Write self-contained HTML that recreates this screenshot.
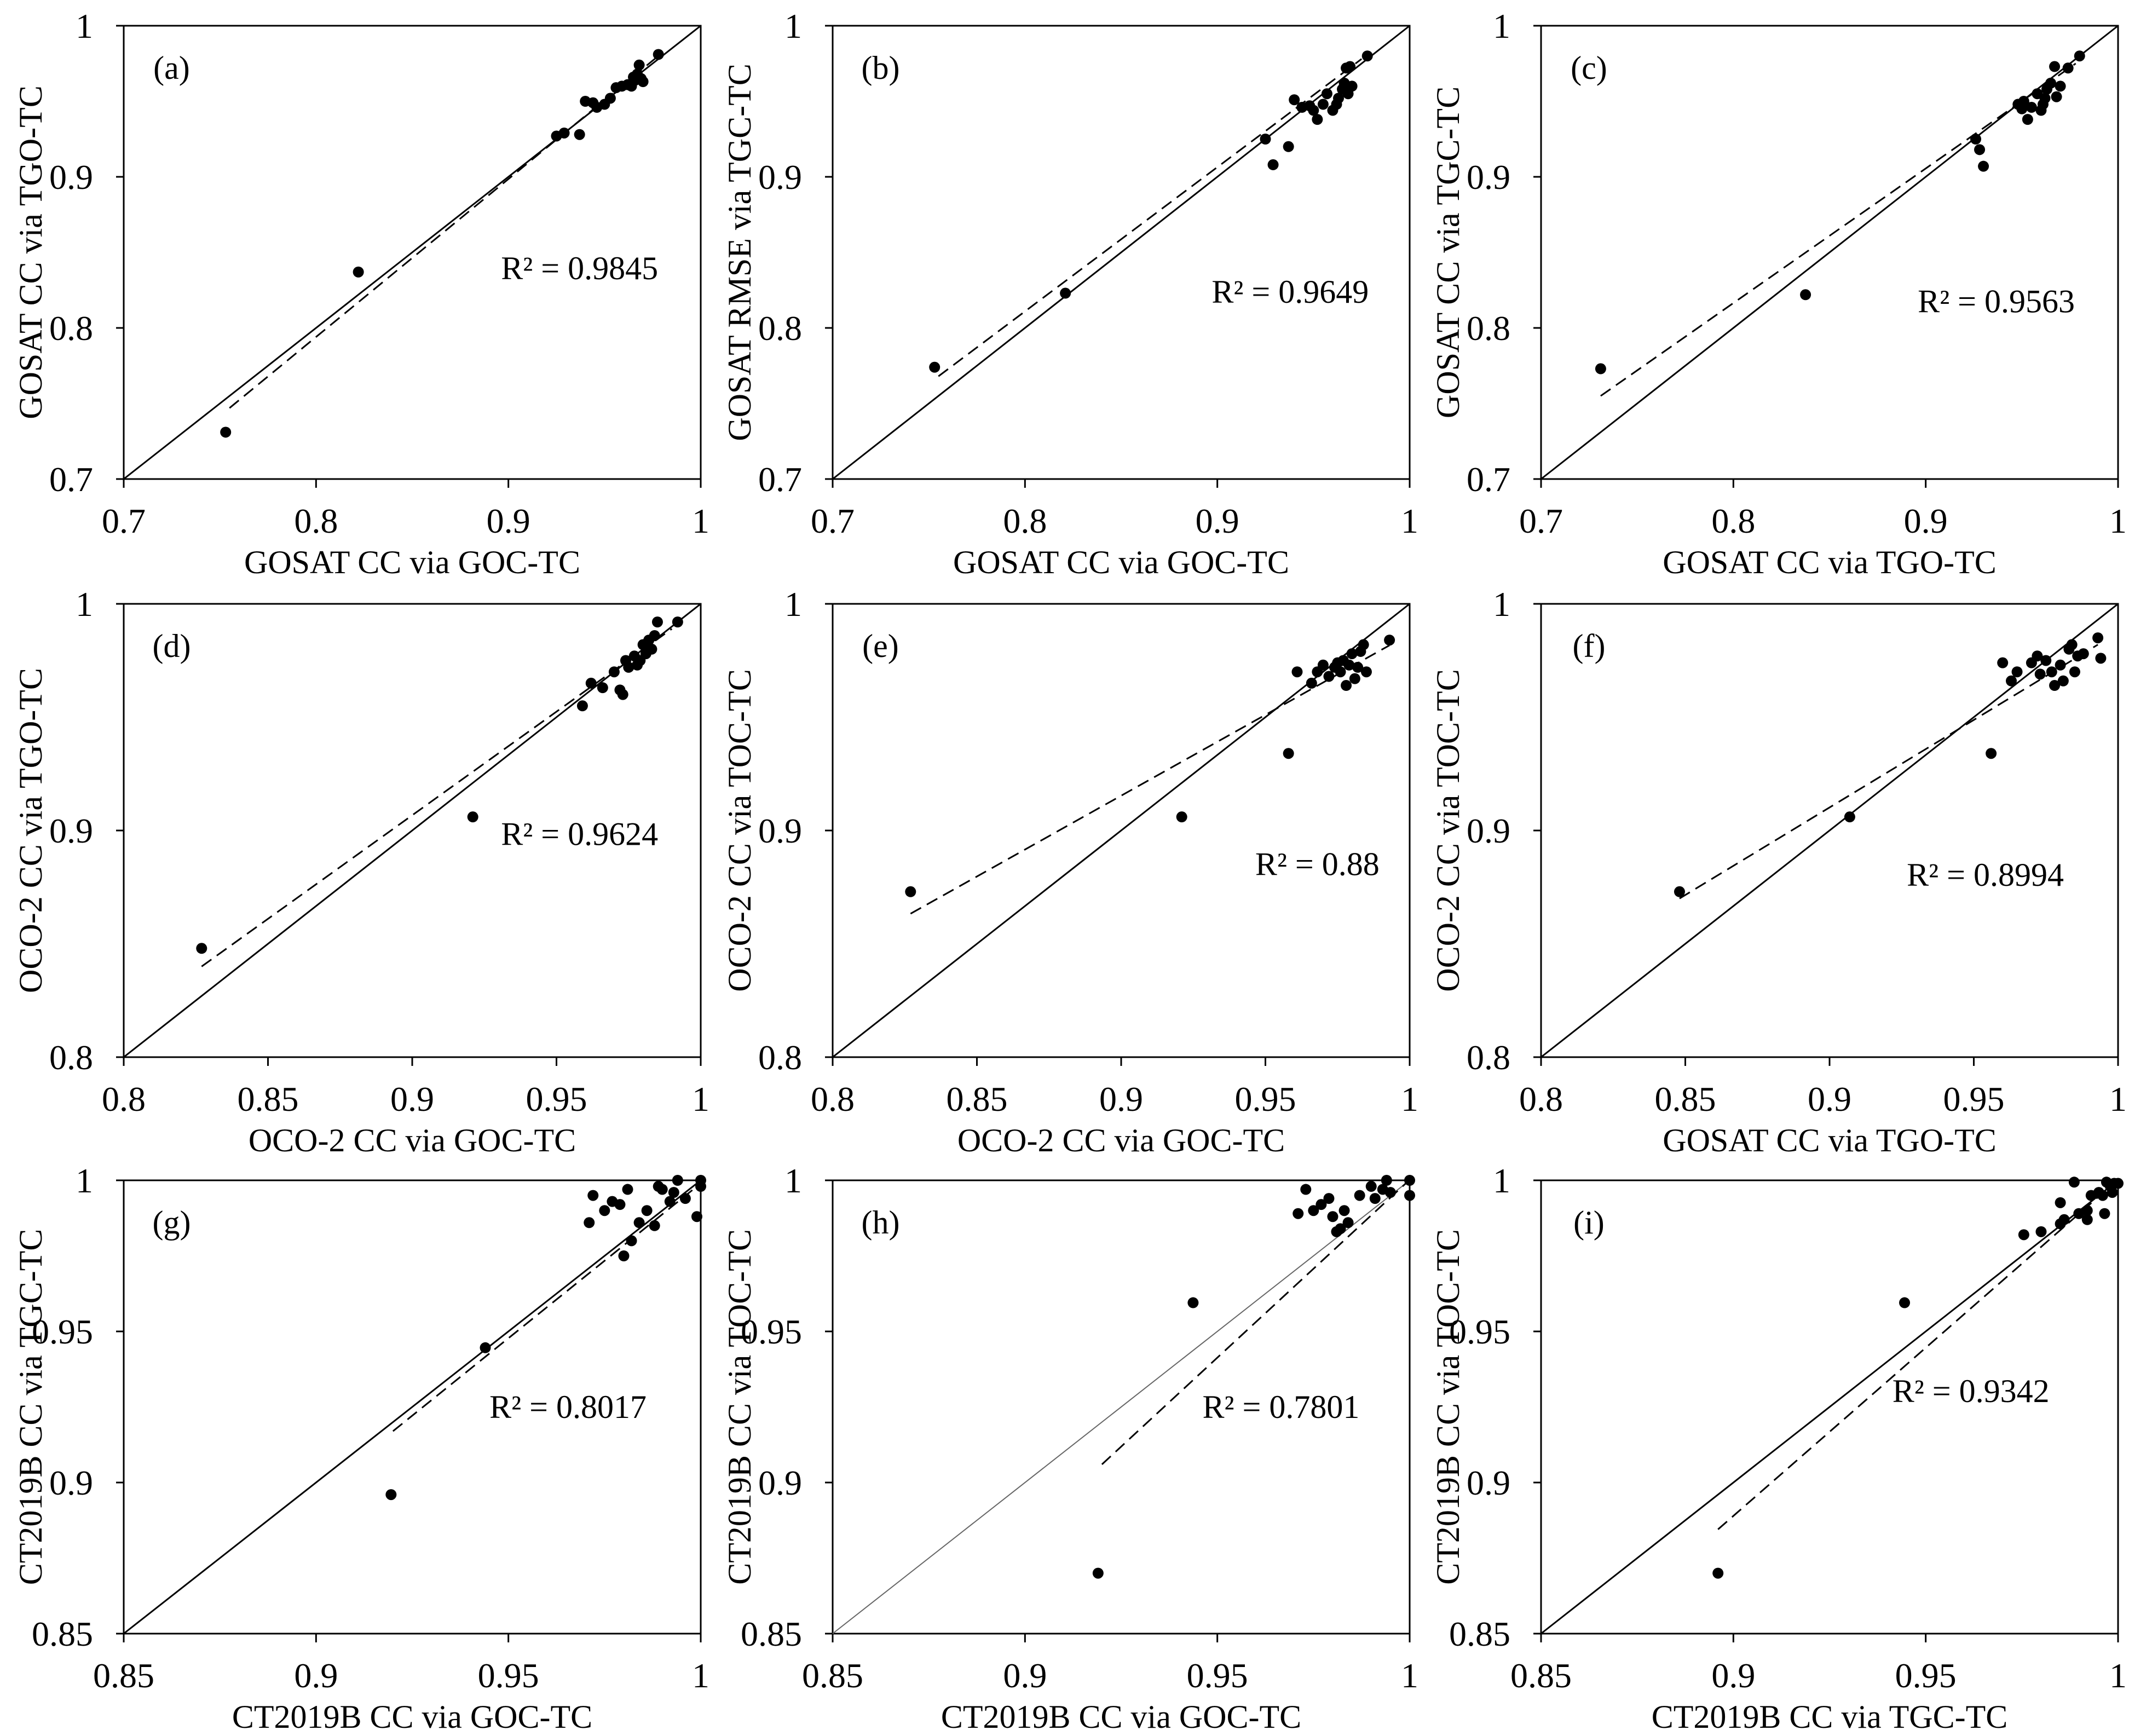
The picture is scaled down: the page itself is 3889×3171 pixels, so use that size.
<!DOCTYPE html>
<html><head><meta charset="utf-8"><title>CC comparison scatter plots</title>
<style>
html,body{margin:0;padding:0;background:#fff;}
svg{display:block;font-family:"Liberation Serif","DejaVu Serif",serif;}
</style></head>
<body>
<svg id="fig" width="3889" height="3171" viewBox="0 0 3889 3171" xmlns="http://www.w3.org/2000/svg"></svg>
<script>
// ---- data ----
const aX=[0.753,0.822,0.925,0.929,0.937,0.940,0.944,0.946,0.950,0.953,0.956,0.959,0.962,0.964,0.965,0.966,0.967,0.968,0.969,0.970,0.978];
const aY=[0.731,0.837,0.927,0.929,0.928,0.950,0.949,0.946,0.948,0.952,0.959,0.960,0.961,0.960,0.966,0.964,0.968,0.974,0.965,0.963,0.981];
const bX=[0.753,0.821,0.925,0.929,0.937,0.940,0.944,0.948,0.950,0.952,0.955,0.957,0.960,0.962,0.963,0.965,0.966,0.967,0.968,0.969,0.970,0.978];
const bY=[0.774,0.823,0.925,0.908,0.920,0.951,0.946,0.947,0.944,0.938,0.948,0.955,0.944,0.948,0.952,0.958,0.962,0.972,0.955,0.973,0.960,0.980];
const cX=[0.731,0.8375,0.926,0.928,0.930,0.948,0.950,0.951,0.953,0.955,0.958,0.960,0.961,0.962,0.963,0.965,0.967,0.968,0.970,0.974,0.980];
const cY=[0.773,0.822,0.925,0.918,0.907,0.948,0.945,0.950,0.938,0.946,0.955,0.944,0.948,0.952,0.958,0.962,0.973,0.953,0.960,0.972,0.980];
const dX=[0.827,0.921,0.959,0.962,0.966,0.970,0.972,0.973,0.974,0.975,0.977,0.978,0.979,0.980,0.981,0.982,0.983,0.984,0.985,0.992];
const dY=[0.848,0.906,0.955,0.965,0.963,0.970,0.962,0.960,0.975,0.972,0.977,0.973,0.975,0.982,0.978,0.984,0.980,0.986,0.992,0.992];
const eX=[0.827,0.921,0.958,0.961,0.966,0.968,0.970,0.972,0.974,0.975,0.976,0.977,0.978,0.979,0.980,0.981,0.982,0.983,0.984,0.985,0.993];
const eY=[0.873,0.906,0.934,0.970,0.965,0.970,0.973,0.968,0.972,0.974,0.970,0.975,0.964,0.973,0.978,0.967,0.972,0.979,0.982,0.970,0.984];
const fX=[0.848,0.907,0.956,0.960,0.963,0.965,0.970,0.972,0.973,0.975,0.977,0.978,0.980,0.981,0.983,0.984,0.985,0.986,0.988,0.993,0.994];
const fY=[0.873,0.906,0.934,0.974,0.966,0.970,0.974,0.977,0.969,0.975,0.970,0.964,0.973,0.966,0.980,0.982,0.970,0.977,0.978,0.985,0.976];
const gX=[0.9195,0.944,0.971,0.972,0.975,0.977,0.979,0.980,0.981,0.982,0.984,0.986,0.988,0.989,0.990,0.992,0.993,0.994,0.996,0.999,1.0,1.0];
const gY=[0.896,0.9446,0.986,0.995,0.990,0.993,0.992,0.975,0.997,0.980,0.986,0.990,0.985,0.998,0.997,0.993,0.996,1.0,0.994,0.988,0.998,1.0];
const hX=[0.919,0.9437,0.971,0.973,0.975,0.977,0.979,0.980,0.981,0.982,0.983,0.984,0.987,0.990,0.991,0.993,0.994,0.995,1.0,1.0];
const hY=[0.870,0.9595,0.989,0.997,0.990,0.992,0.994,0.988,0.983,0.984,0.990,0.986,0.995,0.998,0.994,0.997,1.0,0.996,1.0,0.995];
const iX=[0.896,0.9445,0.9755,0.980,0.985,0.985,0.986,0.9886,0.9898,0.992,0.992,0.993,0.995,0.9965,0.996,0.997,0.998,0.9985,0.999,1.0];
const iY=[0.870,0.9595,0.982,0.983,0.9926,0.9856,0.987,0.9994,0.989,0.990,0.987,0.995,0.996,0.989,0.995,0.9994,0.998,0.996,0.999,0.999];
// trend-line endpoints [x0,x1] / [y0,y1]
const aTX=[0.755,0.977], aTY=[0.747,0.979];
const bTX=[0.755,0.975], bTY=[0.768,0.978];
const cTX=[0.731,0.978], cTY=[0.755,0.975];
const dTX=[0.827,0.990], dTY=[0.840,0.989];
const eTX=[0.827,0.993], eTY=[0.8633,0.9817];
const fTX=[0.848,0.993], fTY=[0.870,0.982];
const gTX=[0.920,1.0],   gTY=[0.917,0.999];
const hTX=[0.920,0.999], hTY=[0.906,0.999];
const iTX=[0.896,0.998], iTY=[0.8845,0.998];
// axis tick labels
const ticks07=["0.7","0.8","0.9","1"];
const ticks08=["0.8","0.85","0.9","0.95","1"];
const ticks08y=["0.8","0.9","1"];
const ticks085=["0.85","0.9","0.95","1"];
const r2Labels=["R² = 0.9845","R² = 0.9649","R² = 0.9563","R² = 0.9624","R² = 0.88","R² = 0.8994","R² = 0.8017","R² = 0.7801","R² = 0.9342"];

const panels=[
 {id:"a",x:aX,y:aY,tx:aTX,ty:aTY,t:ticks07,yt2:ticks07,xt:"GOSAT CC via GOC-TC",yt:"GOSAT CC via TGO-TC",r2:[0.79,0.535]},
 {id:"b",x:bX,y:bY,tx:bTX,ty:bTY,t:ticks07,yt2:ticks07,xt:"GOSAT CC via GOC-TC",yt:"GOSAT RMSE via TGC-TC",r2:[0.793,0.587]},
 {id:"c",x:cX,y:cY,tx:cTX,ty:cTY,t:ticks07,yt2:ticks07,xt:"GOSAT CC via TGO-TC",yt:"GOSAT CC via TGC-TC",r2:[0.789,0.608]},
 {id:"d",x:dX,y:dY,tx:dTX,ty:dTY,t:ticks08,yt2:ticks08y,xt:"OCO-2 CC via GOC-TC",yt:"OCO-2 CC via TGO-TC",r2:[0.79,0.508]},
 {id:"e",x:eX,y:eY,tx:eTX,ty:eTY,t:ticks08,yt2:ticks08y,xt:"OCO-2 CC via GOC-TC",yt:"OCO-2 CC via TOC-TC",r2:[0.84,0.574]},
 {id:"f",x:fX,y:fY,tx:fTX,ty:fTY,t:ticks08,yt2:ticks08y,xt:"GOSAT CC via TGO-TC",yt:"OCO-2 CC via TOC-TC",r2:[0.77,0.598]},
 {id:"g",x:gX,y:gY,tx:gTX,ty:gTY,t:ticks085,yt2:ticks085,xt:"CT2019B CC via GOC-TC",yt:"CT2019B CC via TGC-TC",r2:[0.77,0.50]},
 {id:"h",x:hX,y:hY,tx:hTX,ty:hTY,t:ticks085,yt2:ticks085,xt:"CT2019B CC via GOC-TC",yt:"CT2019B CC via TOC-TC",r2:[0.777,0.50],grey:true},
 {id:"i",x:iX,y:iY,tx:iTX,ty:iTY,t:ticks085,yt2:ticks085,xt:"CT2019B CC via TGC-TC",yt:"CT2019B CC via TOC-TC",r2:[0.745,0.465]}
];
const colL=[226,1521,2815], rowT=[47,1103,2156], PW=1054, PH=828;
const NS="http://www.w3.org/2000/svg";
const svg=document.getElementById("fig");
function mk(tag,attrs,parent){const e=document.createElementNS(NS,tag);for(const k in attrs)e.setAttribute(k,attrs[k]);parent.appendChild(e);return e;}

panels.forEach((p,idx)=>{
  const L=colL[idx%3], T=rowT[Math.floor(idx/3)];
  const lo=parseFloat(p.t[0]), hi=parseFloat(p.t[p.t.length-1]);
  const sx=v=>L+(v-lo)/(hi-lo)*PW;
  const sy=v=>T+PH-(v-lo)/(hi-lo)*PH;
  const g=mk("g",{},svg);
  
  
  const fr=mk("rect",{x:L,y:T,width:PW,height:PH,fill:"none",stroke:"#000","stroke-width":3},g);
  
  
  p.t.forEach(s=>{
    const v=parseFloat(s);
    const tx=mk("line",{x1:sx(v),x2:sx(v),y1:T+PH,y2:T+PH+16,stroke:"#000","stroke-width":3},g);
    
    
    const xl=mk("text",{x:sx(v),y:T+PH+98,"font-size":64,"text-anchor":"middle"},g);
    xl.textContent=s;
    
    
  });
  p.yt2.forEach(s=>{
    const v=parseFloat(s);
    const ty=mk("line",{x1:L-14,x2:L,y1:sy(v),y2:sy(v),stroke:"#000","stroke-width":3},g);
    
    
    const yl=mk("text",{x:L-56,y:sy(v)+22,"font-size":64,"text-anchor":"end"},g);
    yl.textContent=s;
    
    
  });
  const d=mk("line",{x1:sx(lo),y1:sy(lo),x2:sx(hi),y2:sy(hi),stroke:p.grey?"#666":"#000","stroke-width":p.grey?2:3},g);
  
  
  const tr=mk("line",{x1:sx(p.tx[0]),y1:sy(p.ty[0]),x2:sx(p.tx[1]),y2:sy(p.ty[1]),stroke:"#000","stroke-width":3,"stroke-dasharray":"22 12"},g);
  
  
  p.x.forEach((xv,k)=>{
    const c=mk("circle",{cx:sx(xv),cy:sy(p.y[k]),r:10,fill:"#000"},g);
    
    
  });
  const pl=mk("text",{x:L+PW*0.083,y:T+PH*0.093+20,"font-size":60,"text-anchor":"middle"},g);
  pl.textContent="("+p.id+")";
  
  
  const r2=mk("text",{x:L+PW*p.r2[0],y:T+PH*p.r2[1]+20,"font-size":60,"text-anchor":"middle"},g);
  r2.textContent=r2Labels[idx];
  
  
  const xt=mk("text",{x:L+PW/2,y:T+PH+172,"font-size":60,"text-anchor":"middle"},g);
  xt.textContent=p.xt;
  
  
  const yx=L-170, yy=T+PH/2;
  const yt=mk("text",{x:yx,y:yy,"font-size":60,"text-anchor":"middle",transform:"rotate(-90 "+yx+" "+yy+") translate(0 20)"},g);
  yt.textContent=p.yt;
  
  
});
</script>
</body></html>
